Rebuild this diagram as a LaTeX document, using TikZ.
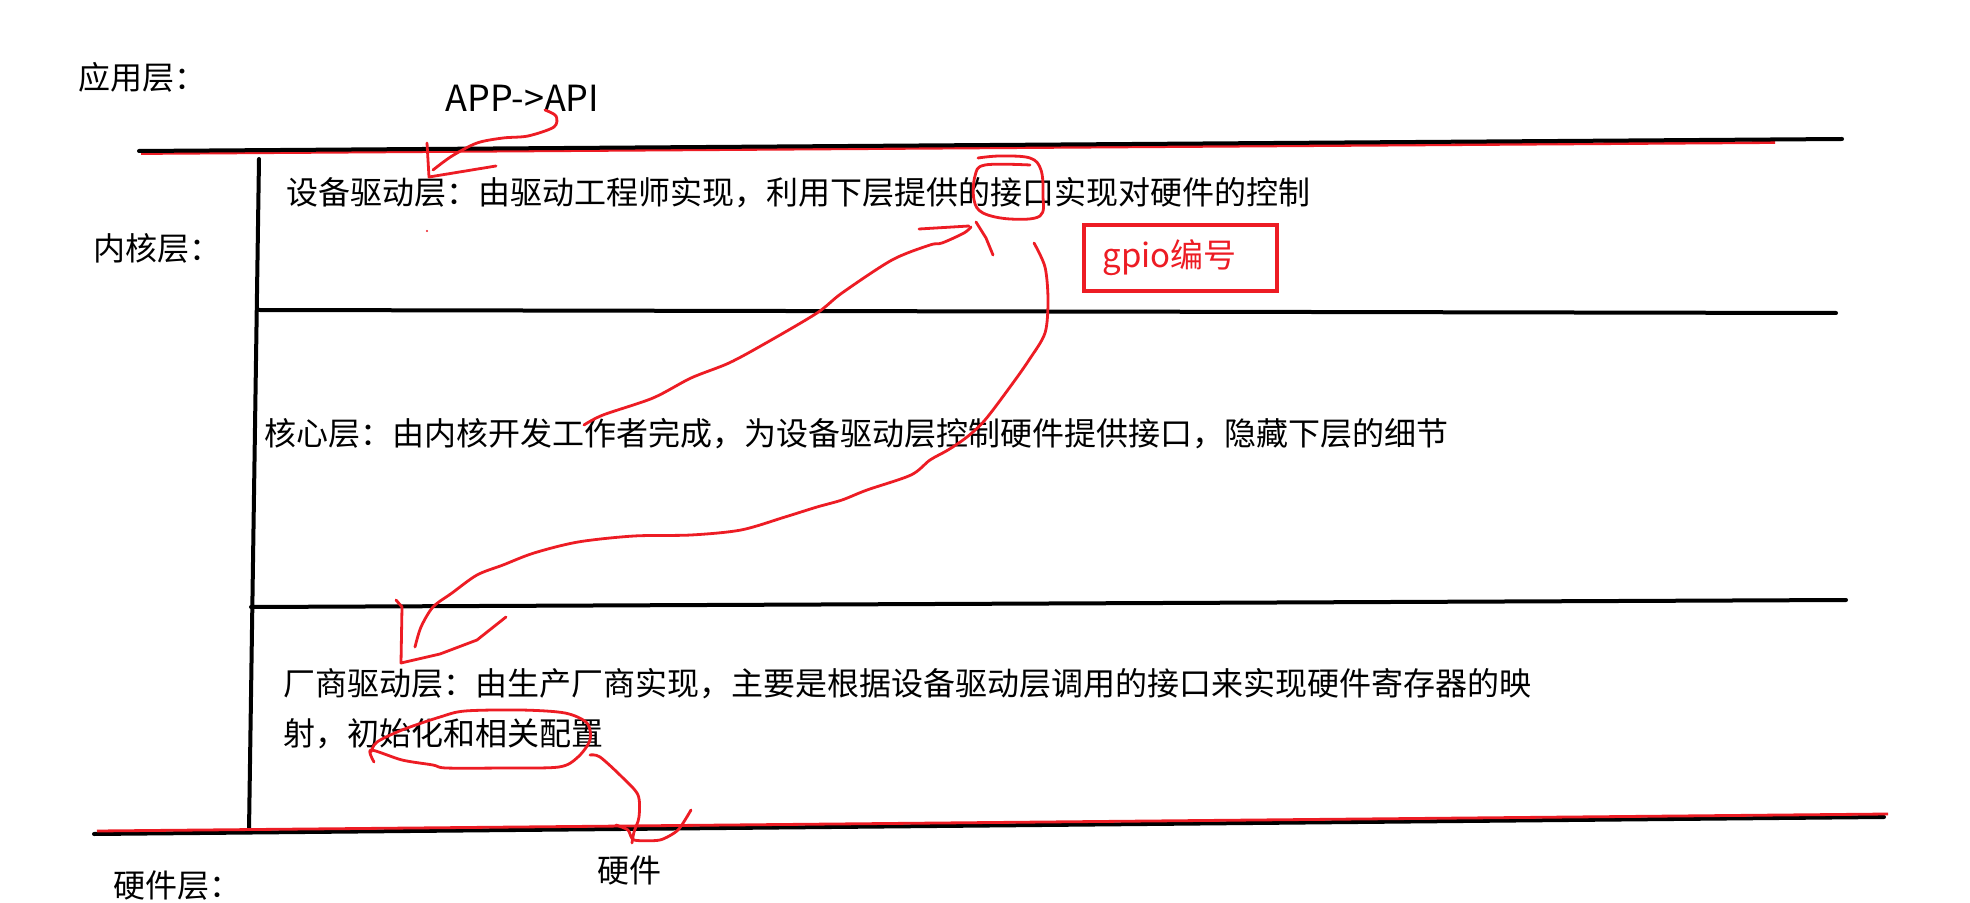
\documentclass[tikz,border=0pt]{standalone}
\usepackage{fontspec}
\setmainfont{Noto Sans CJK SC}
\definecolor{pen}{RGB}{237,28,36}
\begin{document}
\begin{tikzpicture}[x=0.5pt,y=-0.5pt,
  txt/.style={anchor=west,inner sep=0pt,font=\fontsize{16}{20}\selectfont},
  rule/.style={line width=2pt,black,line cap=round},
  redrule/.style={line width=1.4pt,pen},
  ink/.style={draw=pen,line width=1.4pt,line cap=round,line join=round},
  gpiobox/.style={draw=pen,line width=2pt,minimum width=96.5pt,minimum height=33pt,
    inner xsep=9pt,text width=78pt,align=left,text=pen,font=\fontsize{16.5}{20}\selectfont}]
\useasboundingbox[fill=white] (0,0) rectangle (1970,903);

% layer rules
\coordinate (t1) at (139,151); \coordinate (t2) at (1842,139);
\coordinate (v1) at (259,159); \coordinate (v2) at (249,831);
\coordinate (m1) at (259,310); \coordinate (m2) at (1836,313);
\coordinate (n1) at (251,607); \coordinate (n2) at (1846,600);
\coordinate (b1) at (94,834);  \coordinate (b2) at (1884,817);
\draw[redrule] (141,153.5) -- (1775,142.5);
\draw[rule] (t1) -- (t2);
\draw[rule] (v1) -- (v2);
\draw[rule] (m1) -- (m2);
\draw[rule] (n1) -- (n2);
\draw[rule] (b1) -- (b2);
\draw[redrule] (97,831) -- (1888,814);

% texts
\node[txt] (app) at (78,77) {应用层：};
\node[txt,font=\fontsize{18}{22}\selectfont] (api) at (445,98) {APP->API};
\node[txt] (kern) at (93,248) {内核层：};
\node[txt] (dev) at (286,193) {设备驱动层：由驱动工程师实现，利用下层提供的接口实现对硬件的控制};
\node[txt] (core) at (264,434) {核心层：由内核开发工作者完成，为设备驱动层控制硬件提供接口，隐藏下层的细节};
\node[txt] (ven1) at (283,684) {厂商驱动层：由生产厂商实现，主要是根据设备驱动层调用的接口来实现硬件寄存器的映};
\node[txt] (ven2) at (283,734) {射，初始化和相关配置};
\node[txt] (hw) at (597,870) {硬件};
\node[txt] (hwl) at (113,886) {硬件层：};
\node[gpiobox] (gpio) at (1180.5,258) {gpio编号};

% freehand annotations
\draw[ink] plot[smooth,tension=0.5] coordinates {(545,110)(556,116)(554,127)(528,136)(503,138)(477,143)(452,156)(433,170)};
\draw[ink] (427,143) -- (429,177) -- (496,166);

\draw[ink] plot[smooth,tension=0.6] coordinates {(1030,165)(985,165)(975,176)(974,200)(983,213)(1010,219)(1040,216)(1043,195)(1041,170)(1030,158)(1000,156)(978,158)};

\draw[ink] plot[smooth,tension=0.5] coordinates {(584,425)(603,415)(653,398)(691,378)(729,363)(766,343)(817,313)(842,293)(892,260)(930,245)(942,243)(964,233)(971,227)};
\draw[ink] (919,229) -- (969,226);
\draw[ink] (976,222) -- (986,238) -- (993,255);

\draw[ink] plot[smooth,tension=0.5] coordinates {(1034,243)(1045,267)(1048,300)(1045,333)(1029,360)(1010,387)(985,420)(967,437)(948,450)(930,460)(911,475)(867,490)(842,500)(817,507)(785,517)(741,530)(691,535)(634,536)(578,542)(534,553)(503,565)(477,575)(452,593)(433,607)(421,627)(415,647)};
\draw[ink] (396,600) -- (402,607) -- (401,663) -- (440,654) -- (477,640) -- (506,617);

\draw[ink] plot[smooth,tension=0.5] coordinates {(374,762)(371,750)(402,760)(433,765)(446,768)(503,768)(559,767)(578,757)(590,740)(587,723)(565,713)(521,710)(465,711)(440,717)(402,730)(377,742)(371,752)};

\draw[ink] plot[smooth,tension=0.5] coordinates {(590,755)(600,757)(622,777)(638,795)(639,817)(634,832)(632,843)};
\draw[ink] plot[smooth,tension=0.4] coordinates {(616,825)(628,830)(634,840)(660,840)(678,830)(691,810)};

\fill[pen] (427,231) circle (0.6pt);
\end{tikzpicture}
\end{document}
